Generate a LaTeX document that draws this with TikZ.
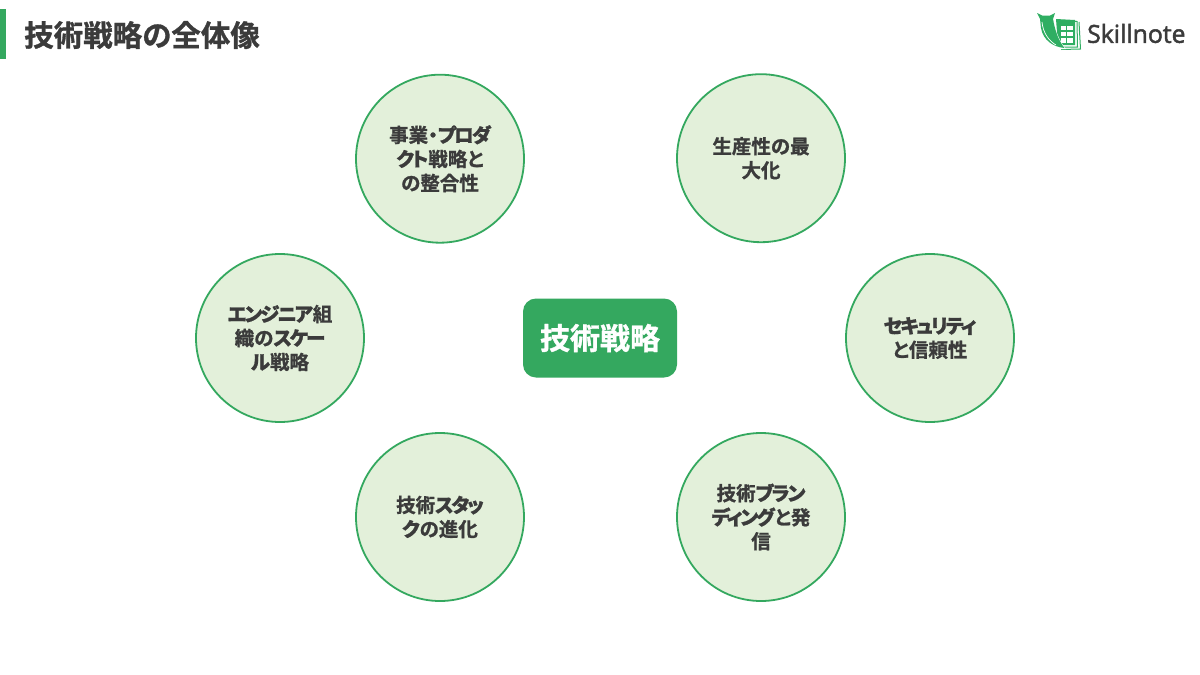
\documentclass[tikz,border=0pt]{standalone}
\usepackage{fontspec}
\setmainfont{Noto Sans CJK JP}[BoldFont={Noto Sans CJK JP Bold},BoldFeatures={RawFeature={+palt;embolden=1.1}}]
\newfontfamily\kanafont{Noto Sans CJK JP Bold}[RawFeature={+palt;embolden=1.1},LetterSpace=-10]
\newcommand{\kn}[1]{{\kanafont #1}}
\newfontfamily\logofont{Open Sans}[RawFeature={embolden=2}]
\definecolor{accent}{HTML}{34A85F}
\definecolor{pale}{HTML}{E3F0DA}
\definecolor{ink}{HTML}{3B3B3B}
\definecolor{logogreen}{HTML}{2FAE62}
\tikzset{
  topic/.style={circle,draw=accent,fill=pale,line width=1.8pt,minimum size=168pt,inner sep=0pt,
    text=ink,align=center,font=\fontsize{19.5}{24}\selectfont\bfseries},
  hub/.style={rectangle,rounded corners=13pt,fill=accent,minimum width=154pt,minimum height=79pt,inner sep=0pt,
    text=white,font=\fontsize{30}{34}\selectfont\bfseries},
  titletext/.style={anchor=center,inner sep=0pt,text=ink,font=\fontsize{29.5}{32}\selectfont\bfseries},
  logotext/.style={anchor=west,inner sep=0pt,text=ink,font=\fontsize{24.8}{26}\logofont}
}
\begin{document}
\begin{tikzpicture}[x=1pt,y=-1pt]
\useasboundingbox (0,0) rectangle (1200,675);
\fill[white] (0,0) rectangle (1200,675);
\fill[accent] (0,9) rectangle (6,59);
\node[titletext] (title) at (142,35) {技術戦略の全体像};
% logo: sheets
\draw[logogreen,line width=1pt] (1060,21) -- (1077,21.5) -- (1077.5,47) -- (1060,47);
\draw[logogreen,line width=1pt] (1079,22) -- (1080.5,49) -- (1061,49.5);
\fill[logogreen] (1056,19) -- (1075,20) -- (1075,45) -- (1058,45) -- cycle;
\fill[white] (1061,25.5) rectangle (1065.5,30);
\fill[white] (1067,25.5) rectangle (1072.5,30);
\fill[white] (1061,31.5) rectangle (1065.5,36);
\fill[white] (1067,31.5) rectangle (1072.5,36);
\fill[white] (1061,37.5) rectangle (1065.5,42.5);
\fill[white] (1067,37.5) rectangle (1072.5,42.5);
% logo: owl
\fill[white] (1053,17) .. controls (1055,28) and (1058,40) .. (1066,49) -- (1056,49) -- (1050,30) -- cycle;
\fill[logogreen] (1037,13) -- (1042,15.5) -- (1050,15.5) -- (1055,13) -- (1053,19) .. controls (1055,30) and (1058,40) .. (1064.5,48) .. controls (1053,47) and (1043,40) .. (1041,28) -- (1040,19) -- cycle;
\draw[white,line width=.7pt] (1042,22) .. controls (1043,33) and (1049,41) .. (1056,45);
\node[logotext] (logo) at (1087,33.5) {Skillnote};
% topics
\node[topic] (t1) at (440,158.7) {事業・\kn{プロダ}\\\kn{クト}戦略と\\の整合性};
\node[topic] (t2) at (761,158.2) {生産性の最\\大化};
\node[topic] (t3) at (280,338) {\kn{エンジニア}組\\織の\kn{スケー}\\\kn{ル}戦略};
\node[topic] (t4) at (930,338) {\kn{セキュリティ}\\と信頼性};
\node[topic] (t5) at (440,517) {技術\kn{スタッ}\\\kn{ク}の進化};
\node[topic] (t6) at (761,517) {技術\kn{ブラン}\\\kn{ディング}と発\\信};
\node[hub] (hub) at (600,338) {技術戦略};
\end{tikzpicture}
\end{document}
